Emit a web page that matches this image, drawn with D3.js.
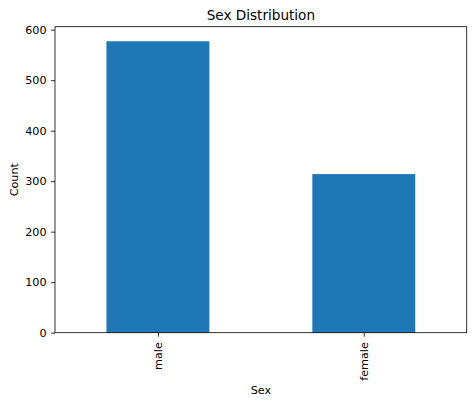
<!DOCTYPE html>
<html><head><meta charset="utf-8">
<script src="https://cdn.jsdelivr.net/npm/d3@7"></script>
<style>body{margin:0;background:#fff}svg{display:block}text{font-family:"DejaVu Sans",sans-serif;fill:#000}</style>
</head><body>
<svg id="c" width="474" height="405"></svg>
<script>
const categories = ["male", "female"];
const counts = [577, 314];
const yTicks = [0, 100, 200, 300, 400, 500, 600];
const title = "Sex Distribution";
const xLabel = "Sex";
const yLabel = "Count";

const W = 474, H = 405;
const m = {left: 55, top: 26.7, right: 474 - 466.7, bottom: 405 - 332.7};
const svg = d3.select("#c");
const g = svg.append("g").attr("transform", `translate(${m.left},${m.top})`);
const iw = W - m.left - m.right, ih = H - m.top - m.bottom;

const x = d3.scaleLinear().domain([-0.5, categories.length - 0.5]).range([0, iw]);
const y = d3.scaleLinear().domain([0, d3.max(counts) * 1.05]).range([ih, 0]);
const bw = 0.5;

g.selectAll("rect.bar").data(counts).join("rect")
  .attr("class", "bar")
  .attr("x", (d, i) => x(i - bw / 2))
  .attr("width", (d, i) => x(i + bw / 2) - x(i - bw / 2))
  .attr("y", d => y(d))
  .attr("height", d => y(0) - y(d))
  .attr("fill", "#1f77b4");

const yAxis = g.append("g").call(d3.axisLeft(y).tickValues(yTicks).tickSize(4).tickPadding(4.5).tickFormat(d3.format("d")));
yAxis.select(".domain").remove();
yAxis.selectAll("text").style("font-size", "11.2px");
yAxis.selectAll("line").attr("stroke", "#000").attr("stroke-width", 0.8);

const xAxis = g.append("g").attr("transform", `translate(0,${ih})`)
  .call(d3.axisBottom(x).tickValues(categories.map((c, i) => i)).tickSize(4).tickPadding(4).tickFormat(i => categories[i]));
xAxis.select(".domain").remove();
xAxis.selectAll("line").attr("stroke", "#000").attr("stroke-width", 0.8);
xAxis.selectAll("text").style("font-size", "11.2px")
  .attr("transform", "rotate(-90)")
  .attr("text-anchor", "end")
  .attr("x", -9.5)
  .attr("y", 0)
  .attr("dy", "0.35em");

g.append("rect").attr("x", 0).attr("y", 0).attr("width", iw).attr("height", ih)
  .attr("fill", "none").attr("stroke", "#000").attr("stroke-width", 0.8);

svg.append("text").attr("x", m.left + iw / 2).attr("y", 20).attr("text-anchor", "middle")
  .style("font-size", "13.6px").text(title);
svg.append("text").attr("x", m.left + iw / 2).attr("y", 394).attr("text-anchor", "middle")
  .style("font-size", "11.2px").text(xLabel);
svg.append("text").attr("transform", `translate(17.5,${m.top + ih / 2}) rotate(-90)`).attr("text-anchor", "middle")
  .style("font-size", "11.2px").text(yLabel);
</script>
</body></html>
